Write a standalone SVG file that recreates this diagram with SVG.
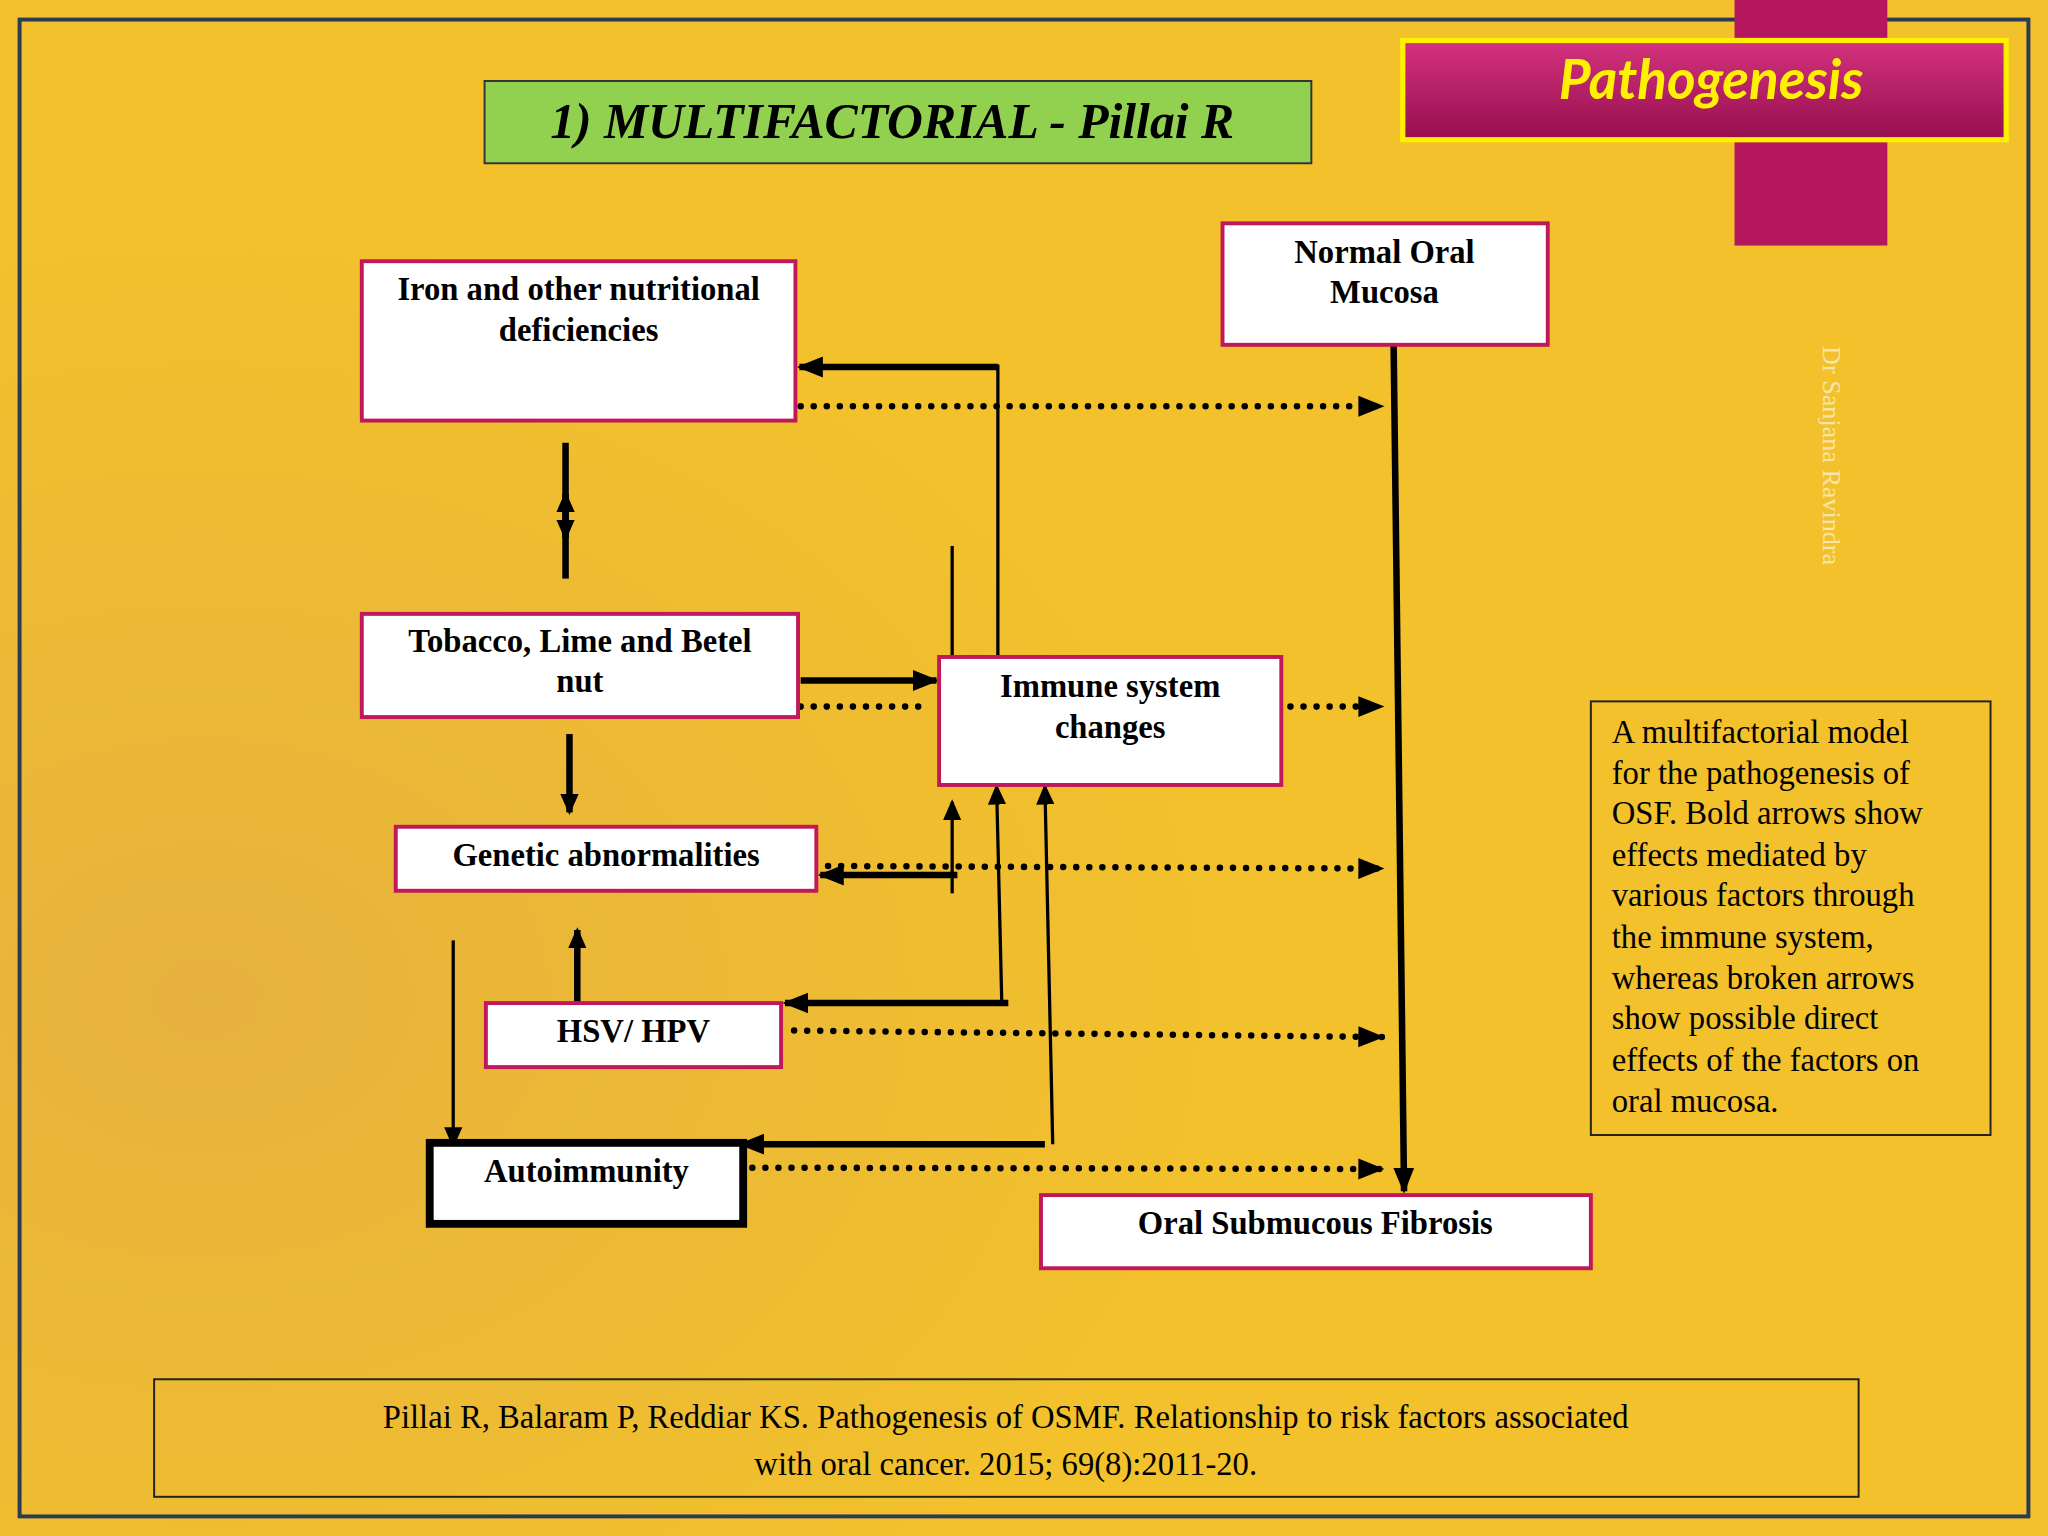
<svg xmlns="http://www.w3.org/2000/svg" width="2048" height="1536" viewBox="0 0 2048 1536">
<defs>
<marker id="ah" markerUnits="userSpaceOnUse" markerWidth="22" markerHeight="20" refX="18" refY="10" orient="auto"><path d="M0,2 L20,10 L0,18 Z" fill="#000"/></marker>
<marker id="as" markerUnits="userSpaceOnUse" markerWidth="16" markerHeight="16" refX="14" refY="8" orient="auto"><path d="M0,1 L16,8 L0,15 Z" fill="#000"/></marker>
<linearGradient id="pg" x1="0" y1="0" x2="0" y2="1"><stop offset="0" stop-color="#D4327E"/><stop offset="1" stop-color="#960F4E"/></linearGradient>
<radialGradient id="bg" cx="0.1" cy="0.65" r="0.5"><stop offset="0" stop-color="#E6B23E"/><stop offset="1" stop-color="#F2C12C"/></radialGradient>
</defs>
<style>
.nb{fill:#fff;stroke:#C0185A;stroke-width:3}
.t{font-family:"Liberation Serif","DejaVu Serif",serif;font-weight:bold;font-size:25px;fill:#000;text-anchor:middle}
.s{font-family:"Liberation Serif","DejaVu Serif",serif;font-size:25px;fill:#000}
.dot{fill:none;stroke:#000;stroke-width:5;stroke-dasharray:0 10;stroke-linecap:round}
.th{fill:none;stroke:#000;stroke-width:5}
.tn{fill:none;stroke:#000;stroke-width:2.5}
</style>
<g transform="scale(1.30612)">
<rect width="1568" height="1176" fill="url(#bg)"/>
<rect x="15" y="15" width="1538" height="1146" fill="none" stroke="#2B3A55" stroke-width="3"/>
<rect x="1328" y="0" width="117" height="188" fill="#B5175F"/>
<g id="pathogenesis"><rect x="1074" y="31" width="462" height="76" fill="url(#pg)" stroke="#FFF000" stroke-width="4"/>
<text x="1310" y="76" font-family="Lato,'DejaVu Sans',sans-serif" font-style="italic" font-weight="bold" font-size="42" fill="#FFF200" text-anchor="middle">Pathogenesis</text></g>
<g id="title"><rect x="371" y="62" width="633" height="63" fill="#92D050" stroke="#333" stroke-width="1.5"/>
<text x="683" y="106" font-family="'Liberation Serif',serif" font-style="italic" font-weight="bold" font-size="38" text-anchor="middle">1) MULTIFACTORIAL -  Pillai R</text></g>
<text transform="translate(1396,265) rotate(90)" font-family="'Liberation Serif',serif" font-size="20" fill="#fff" fill-opacity="0.6">Dr Sanjana Ravindra</text>

<g id="connectors">
<line class="th" x1="1067" y1="264" x2="1075" y2="912" marker-end="url(#ah)"/>
<line class="dot" x1="613" y1="311" x2="1058" y2="311" marker-end="url(#ah)"/>
<line class="dot" x1="613" y1="541" x2="712" y2="541"/>
<line class="dot" x1="988" y1="541" x2="1058" y2="541" marker-end="url(#ah)"/>
<line class="dot" x1="634" y1="663" x2="1058" y2="665" marker-end="url(#ah)"/>
<line class="dot" x1="608" y1="789" x2="1058" y2="794" marker-end="url(#ah)"/>
<line class="dot" x1="576" y1="894" x2="1058" y2="895" marker-end="url(#ah)"/>
<polyline class="th" points="764,281 612,281" marker-end="url(#ah)"/>
<line class="tn" x1="764" y1="279" x2="764" y2="516" marker-end="url(#as)"/>
<line class="tn" x1="729" y1="418" x2="729" y2="516" marker-end="url(#as)"/>
<line class="th" x1="613" y1="521" x2="717" y2="521" marker-end="url(#ah)"/>
<line class="th" x1="433" y1="339" x2="433" y2="412" marker-end="url(#as)"/>
<line class="th" x1="433" y1="443" x2="433" y2="378" marker-end="url(#as)"/>
<line class="th" x1="436" y1="562" x2="436" y2="622" marker-end="url(#as)"/>
<line class="th" x1="733" y1="670" x2="628" y2="670" marker-end="url(#ah)"/>
<line class="tn" x1="729" y1="684" x2="729" y2="614" marker-end="url(#as)"/>
<line class="th" x1="442" y1="772" x2="442" y2="712" marker-end="url(#as)"/>
<line class="tn" x1="767" y1="768" x2="763" y2="602" marker-end="url(#as)"/>
<line class="th" x1="772" y1="768" x2="601" y2="768" marker-end="url(#ah)"/>
<line class="tn" x1="806" y1="876" x2="800" y2="602" marker-end="url(#as)"/>
<line class="th" x1="800" y1="876" x2="567" y2="876" marker-end="url(#ah)"/>
<line class="tn" x1="347" y1="720" x2="347" y2="877" marker-end="url(#as)"/>
</g>

<g id="iron"><rect class="nb" x="277" y="200" width="332" height="122"/><text class="t" x="443" y="230">Iron and other nutritional</text><text class="t" x="443" y="261">deficiencies</text></g>
<g id="normal"><rect class="nb" x="936" y="171" width="249" height="93"/><text class="t" x="1060" y="201">Normal Oral</text><text class="t" x="1060" y="232">Mucosa</text></g>
<g id="tobacco"><rect class="nb" x="277" y="470" width="334" height="79"/><text class="t" x="444" y="499">Tobacco, Lime and Betel</text><text class="t" x="444" y="530">nut</text></g>
<g id="immune"><rect class="nb" x="719" y="503" width="262" height="98"/><text class="t" x="850" y="534">Immune system</text><text class="t" x="850" y="565">changes</text></g>
<g id="genetic"><rect class="nb" x="303" y="633" width="322" height="49"/><text class="t" x="464" y="663">Genetic abnormalities</text></g>
<g id="hsv"><rect class="nb" x="372" y="768" width="226" height="49"/><text class="t" x="485" y="798">HSV/ HPV</text></g>
<g id="auto"><rect x="329" y="875" width="240" height="62" fill="#fff" stroke="#000" stroke-width="6"/><text class="t" x="449" y="905">Autoimmunity</text></g>
<g id="osf"><rect class="nb" x="797" y="915" width="421" height="56"/><text class="t" x="1007" y="945">Oral Submucous Fibrosis</text></g>
<g id="note"><rect x="1218" y="537" width="306" height="332" fill="none" stroke="#222" stroke-width="1.5"/>
<text class="s" x="1234" y="569">A multifactorial model</text>
<text class="s" x="1234" y="600">for the pathogenesis of</text>
<text class="s" x="1234" y="631">OSF. Bold arrows show</text>
<text class="s" x="1234" y="663">effects mediated by</text>
<text class="s" x="1234" y="694">various factors through</text>
<text class="s" x="1234" y="726">the immune system,</text>
<text class="s" x="1234" y="757">whereas broken arrows</text>
<text class="s" x="1234" y="788">show possible direct</text>
<text class="s" x="1234" y="820">effects of the factors on</text>
<text class="s" x="1234" y="851">oral mucosa.</text></g>
<g id="ref"><rect x="118" y="1056" width="1305" height="90" fill="none" stroke="#222" stroke-width="1.5"/>
<text class="s" x="770" y="1093" font-size="29" text-anchor="middle">Pillai R, Balaram P, Reddiar KS. Pathogenesis of OSMF. Relationship to risk factors  associated</text>
<text class="s" x="770" y="1129" font-size="29" text-anchor="middle">with oral cancer. 2015; 69(8):2011-20.</text></g>
</g>
</svg>
